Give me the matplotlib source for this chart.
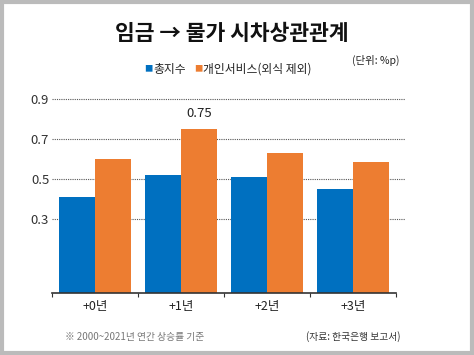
import numpy as np
import matplotlib.pyplot as plt
from matplotlib.patches import Rectangle

plt.rcParams['font.family'] = ['Noto Sans CJK KR', 'DejaVu Sans']

categories = ['+0년', '+1년', '+2년', '+3년']
total_index = [0.41, 0.52, 0.51, 0.45]
personal_service = [0.60, 0.75, 0.63, 0.585]
yticks = [0.3, 0.5, 0.7, 0.9]

blue = '#0070C0'
orange = '#ED7D31'
ymin, ymax = -0.073, 0.95

fig = plt.figure(figsize=(4.74, 3.55), dpi=100)
ax = fig.add_axes([52/474, 62/355, 353/474, 203.6/355])

x = np.arange(len(categories))
w = 0.42
tot = np.array(total_index)
per = np.array(personal_service)
ax.bar(x - w/2, tot - ymin, w, bottom=ymin, color=blue, zorder=2)
ax.bar(x + w/2, per - ymin, w, bottom=ymin, color=orange, zorder=2)

# 0.75 label above the highest bar
ax.text(x[1] + w/2, per[1] + 0.045, '0.75', ha='center', va='bottom', fontsize=9.5, color='#222222')

ax.set_ylim(ymin, ymax)
ax.set_xlim(-0.5, 3.605)
ax.set_yticks(yticks)
ax.set_yticklabels(['0.3', '0.5', '0.7', '0.9'], fontsize=9.5, color='#333333')
ax.tick_params(axis='y', length=0, pad=2)
for yv in yticks:
    ax.axhline(yv, color='#555555', linestyle=(0, (1, 1)), linewidth=0.8, zorder=1)

ax.set_xticks([-0.5, 0.5, 1.5, 2.5, 3.5])
ax.set_xticklabels([])
ax.set_xticks(x, minor=True)
ax.set_xticklabels(categories, minor=True, fontsize=9, fontweight='medium', color='#222222')
ax.tick_params(axis='x', which='major', length=3, direction='out', color='#333333')
ax.tick_params(axis='x', which='minor', length=0, pad=5)

for s in ['left', 'right', 'top']:
    ax.spines[s].set_visible(False)
ax.spines['bottom'].set_bounds(-0.5, 3.5)
ax.spines['bottom'].set_color('#333333')
ax.spines['bottom'].set_linewidth(1.2)

# title and legend
fig.text(232/474, 1 - 34/355, '임금 → 물가 시차상관관계', ha='center', va='center',
         fontsize=15.5, fontweight='bold', color='#111111')
fig.text(400/474, 1 - 60/355, '(단위: %p)', ha='right', va='center', fontsize=7.5, color='#222222')
fig.text(144/474, 1 - 69/355, '■', ha='left', va='center', fontsize=6, color=blue)
fig.text(153/474, 1 - 69/355, '총지수', ha='left', va='center', fontsize=8.5, color='#222222')
fig.text(194/474, 1 - 69/355, '■', ha='left', va='center', fontsize=6, color=orange)
fig.text(203/474, 1 - 69/355, '개인서비스(외식 제외)', ha='left', va='center', fontsize=8.5, color='#222222')

# footer
fig.text(65/474, 1 - 337/355, '※ 2000~2021년 연간 상승률 기준', ha='left', va='center',
         fontsize=7, color='#777777')
fig.text(400/474, 1 - 337/355, '(자료: 한국은행 보고서)', ha='right', va='center',
         fontsize=7, color='#333333')

# gray frame
fig.patches.append(Rectangle((0.004, 0.005), 0.992, 0.99, transform=fig.transFigure,
                             fill=False, edgecolor='#BBBBBB', linewidth=3))

fig.savefig('out.png', dpi=100)
